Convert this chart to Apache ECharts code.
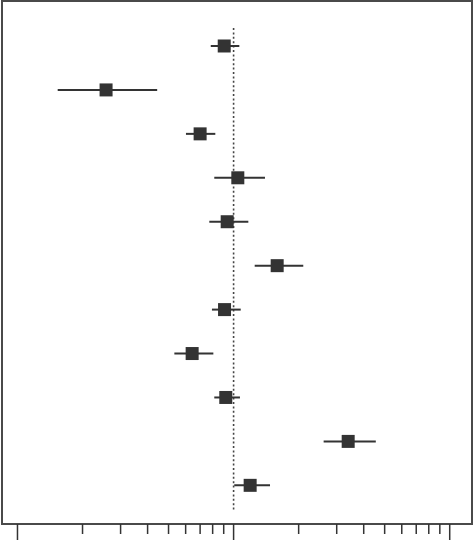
<!DOCTYPE html>
<html>
<head>
<meta charset="utf-8">
<script src="https://cdn.jsdelivr.net/npm/echarts@6/dist/echarts.min.js"></script>
<style>
html,body{margin:0;padding:0;background:#fff;}
#chart{width:474px;height:540px;}
</style>
</head>
<body>
<div id="chart"></div>
<script>
// Rows (top to bottom)
const rows = [1,2,3,4,5,6,7,8,9,10,11];
const estimates = [0.905, 0.257, 0.700, 1.046, 0.934, 1.591, 0.908, 0.643, 0.920, 3.39, 1.193];
const ciLower   = [0.784, 0.1535, 0.602, 0.814, 0.772, 1.252, 0.794, 0.532, 0.814, 2.61, 1.007];
const ciUpper   = [1.063, 0.443, 0.823, 1.397, 1.170, 2.101, 1.079, 0.806, 1.070, 4.55, 1.474];
// Reference line (null effect)
const refValue = 1;
const refRowSpan = [0.59, 11.56];
// Tick marks on the log axis
const majorTicks = [0.1, 1, 10];
const minorTicks = [0.2,0.3,0.4,0.5,0.6,0.7,0.8,0.9,2,3,4,5,6,7,8,9];

const X_MIN = 0.0848, X_MAX = 12.68;
const Y_MIN = -0.024, Y_MAX = 11.88;
const DARK = '#333333';

const chart = echarts.init(document.getElementById('chart'), null, {renderer:'canvas'});

const tickData = majorTicks.map(v => [v, 1]).concat(minorTicks.map(v => [v, 0]));

chart.setOption({
  backgroundColor: '#ffffff',
  animation: false,
  grid: {left: 2, right: 2, top: 1, bottom: 16, show: true, borderColor: '#4a4a4a', borderWidth: 2, backgroundColor: '#fff'},
  xAxis: {
    type: 'log', logBase: 10, min: X_MIN, max: X_MAX,
    axisLine: {show: false}, axisTick: {show: false}, axisLabel: {show: false}, splitLine: {show: false}
  },
  yAxis: {
    type: 'value', inverse: true, min: Y_MIN, max: Y_MAX,
    axisLine: {show: false}, axisTick: {show: false}, axisLabel: {show: false}, splitLine: {show: false}
  },
  series: [
    {
      type: 'line',
      data: [[refValue, refRowSpan[0]], [refValue, refRowSpan[1]]],
      symbol: 'none',
      lineStyle: {color: '#444', width: 1.6, type: [2, 2.4]},
      z: 1
    },
    {
      type: 'custom',
      data: rows.map((r, i) => [ciLower[i], ciUpper[i], r]),
      encode: {x: [0, 1], y: 2},
      renderItem: function (params, api) {
        const a = api.coord([api.value(0), api.value(2)]);
        const b = api.coord([api.value(1), api.value(2)]);
        return {type: 'line', shape: {x1: a[0], y1: a[1], x2: b[0], y2: b[1]},
          style: {stroke: DARK, lineWidth: 2}};
      },
      z: 2
    },
    {
      type: 'scatter',
      data: rows.map((r, i) => [estimates[i], r]),
      symbol: 'rect',
      symbolSize: 13,
      itemStyle: {color: DARK, opacity: 1},
      z: 3
    },
    {
      type: 'custom',
      data: tickData,
      clip: false,
      encode: {x: 0},
      renderItem: function (params, api) {
        const p = api.coord([api.value(0), Y_MAX]);
        const len = api.value(1) ? 16 : 10;
        return {type: 'line', shape: {x1: p[0], y1: p[1], x2: p[0], y2: p[1] + len},
          style: {stroke: DARK, lineWidth: 1.5}};
      },
      z: 4
    }
  ]
});
</script>
</body>
</html>
